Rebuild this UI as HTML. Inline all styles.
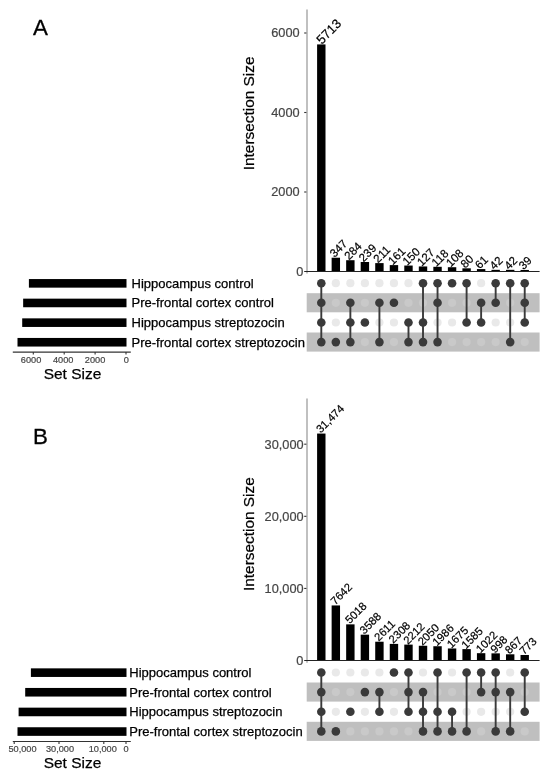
<!DOCTYPE html>
<html lang="en">
<head>
<meta charset="utf-8">
<title>UpSet plots</title>
<style>
html,body{margin:0;padding:0;background:#fff;}
body{width:550px;height:777px;overflow:hidden;}
svg{display:block;}
svg text{font-family:"Liberation Sans", Arial, Helvetica, sans-serif;}
.tk{font-size:12.75px;fill:#454545;stroke:#454545;stroke-width:0.2px;}
.st{font-size:9.2px;fill:#454545;stroke:#454545;stroke-width:0.2px;}
.ttl{font-size:15.5px;fill:#000;stroke:#000;stroke-width:0.25px;}
.lab{font-size:13px;fill:#000;stroke:#000;stroke-width:0.25px;}
.num{font-size:11.2px;fill:#000;stroke:#000;stroke-width:0.2px;}
.pan{font-size:22.3px;fill:#000;stroke:#000;stroke-width:0.3px;}
</style>
</head>
<body>
<svg width="550" height="777" viewBox="0 0 550 777">
<rect width="550" height="777" fill="#fff"/>
<g>
<text class="pan" x="33" y="34.5">A</text>
<rect x="306.7" y="293.2" width="232.9" height="19.1" fill="#bfbfbf"/>
<rect x="306.7" y="332.5" width="232.9" height="19.1" fill="#bfbfbf"/>
<line x1="307" y1="9.5" x2="307" y2="273.6" stroke="#ababab" stroke-width="1.5"/>
<rect x="317.1" y="44.41" width="8.4" height="227.09" fill="#000"/>
<rect x="331.63" y="257.71" width="8.4" height="13.79" fill="#000"/>
<rect x="346.16" y="260.21" width="8.4" height="11.29" fill="#000"/>
<rect x="360.69" y="262" width="8.4" height="9.5" fill="#000"/>
<rect x="375.22" y="263.11" width="8.4" height="8.39" fill="#000"/>
<rect x="389.75" y="265.1" width="8.4" height="6.4" fill="#000"/>
<rect x="404.28" y="265.54" width="8.4" height="5.96" fill="#000"/>
<rect x="418.81" y="266.45" width="8.4" height="5.05" fill="#000"/>
<rect x="433.34" y="266.81" width="8.4" height="4.69" fill="#000"/>
<rect x="447.87" y="267.21" width="8.4" height="4.29" fill="#000"/>
<rect x="462.4" y="268.32" width="8.4" height="3.18" fill="#000"/>
<rect x="476.93" y="269.08" width="8.4" height="2.42" fill="#000"/>
<rect x="491.46" y="269.83" width="8.4" height="1.67" fill="#000"/>
<rect x="505.99" y="269.83" width="8.4" height="1.67" fill="#000"/>
<rect x="520.52" y="269.95" width="8.4" height="1.55" fill="#000"/>
<line x1="304.2" y1="271.5" x2="539.6" y2="271.5" stroke="#222" stroke-width="1.1"/>
<line x1="304.2" y1="33" x2="306.4" y2="33" stroke="#333" stroke-width="1.1"/>
<text class="tk" x="299.6" y="37.4" text-anchor="end">6000</text>
<line x1="304.2" y1="112.5" x2="306.4" y2="112.5" stroke="#333" stroke-width="1.1"/>
<text class="tk" x="299.6" y="116.9" text-anchor="end">4000</text>
<line x1="304.2" y1="192" x2="306.4" y2="192" stroke="#333" stroke-width="1.1"/>
<text class="tk" x="299.6" y="196.4" text-anchor="end">2000</text>
<text class="tk" x="303.4" y="275.9" text-anchor="end">0</text>
<text class="ttl" transform="translate(253.7 113.4) rotate(-90)" text-anchor="middle" style="font-size:15.4px">Intersection Size</text>
<text class="num" style="font-size:13px" transform="translate(321.7 44.91) rotate(-45)">5713</text>
<text class="num" style="font-size:11.5px" transform="translate(334.53 258.11) rotate(-45)">347</text>
<text class="num" style="font-size:11.5px" transform="translate(349.06 260.61) rotate(-45)">284</text>
<text class="num" style="font-size:11.5px" transform="translate(363.59 262.4) rotate(-45)">239</text>
<text class="num" style="font-size:11.5px" transform="translate(378.12 263.51) rotate(-45)">211</text>
<text class="num" style="font-size:11.5px" transform="translate(392.65 265.5) rotate(-45)">161</text>
<text class="num" style="font-size:11.5px" transform="translate(407.18 265.94) rotate(-45)">150</text>
<text class="num" style="font-size:11.5px" transform="translate(421.71 266.85) rotate(-45)">127</text>
<text class="num" style="font-size:11.5px" transform="translate(436.24 267.21) rotate(-45)">118</text>
<text class="num" style="font-size:11.5px" transform="translate(450.77 267.61) rotate(-45)">108</text>
<text class="num" style="font-size:11.5px" transform="translate(465.3 268.72) rotate(-45)">80</text>
<text class="num" style="font-size:11.5px" transform="translate(479.83 269.48) rotate(-45)">61</text>
<text class="num" style="font-size:11.5px" transform="translate(494.36 270.23) rotate(-45)">42</text>
<text class="num" style="font-size:11.5px" transform="translate(508.89 270.23) rotate(-45)">42</text>
<text class="num" style="font-size:11.5px" transform="translate(523.42 270.35) rotate(-45)">39</text>
<circle cx="335.83" cy="283.2" r="4.1" fill="#e9e9e9"/>
<circle cx="335.83" cy="302.8" r="4.1" fill="#c9c9c9"/>
<circle cx="335.83" cy="322.5" r="4.1" fill="#e9e9e9"/>
<circle cx="350.36" cy="283.2" r="4.1" fill="#e9e9e9"/>
<circle cx="364.89" cy="283.2" r="4.1" fill="#e9e9e9"/>
<circle cx="364.89" cy="302.8" r="4.1" fill="#c9c9c9"/>
<circle cx="364.89" cy="342.1" r="4.1" fill="#c9c9c9"/>
<circle cx="379.42" cy="283.2" r="4.1" fill="#e9e9e9"/>
<circle cx="379.42" cy="322.5" r="4.1" fill="#e9e9e9"/>
<circle cx="393.95" cy="283.2" r="4.1" fill="#e9e9e9"/>
<circle cx="393.95" cy="322.5" r="4.1" fill="#e9e9e9"/>
<circle cx="393.95" cy="342.1" r="4.1" fill="#c9c9c9"/>
<circle cx="408.48" cy="283.2" r="4.1" fill="#e9e9e9"/>
<circle cx="408.48" cy="302.8" r="4.1" fill="#c9c9c9"/>
<circle cx="423.01" cy="302.8" r="4.1" fill="#c9c9c9"/>
<circle cx="437.54" cy="322.5" r="4.1" fill="#e9e9e9"/>
<circle cx="452.07" cy="302.8" r="4.1" fill="#c9c9c9"/>
<circle cx="452.07" cy="322.5" r="4.1" fill="#e9e9e9"/>
<circle cx="452.07" cy="342.1" r="4.1" fill="#c9c9c9"/>
<circle cx="466.6" cy="302.8" r="4.1" fill="#c9c9c9"/>
<circle cx="466.6" cy="342.1" r="4.1" fill="#c9c9c9"/>
<circle cx="481.13" cy="283.2" r="4.1" fill="#e9e9e9"/>
<circle cx="481.13" cy="342.1" r="4.1" fill="#c9c9c9"/>
<circle cx="495.66" cy="322.5" r="4.1" fill="#e9e9e9"/>
<circle cx="495.66" cy="342.1" r="4.1" fill="#c9c9c9"/>
<circle cx="510.19" cy="302.8" r="4.1" fill="#c9c9c9"/>
<circle cx="510.19" cy="322.5" r="4.1" fill="#e9e9e9"/>
<circle cx="524.72" cy="342.1" r="4.1" fill="#c9c9c9"/>
<line x1="321.3" y1="283.2" x2="321.3" y2="342.1" stroke="#3a3a3a" stroke-width="1.9"/>
<circle cx="321.3" cy="283.2" r="4.3" fill="#3a3a3a"/>
<circle cx="321.3" cy="302.8" r="4.3" fill="#3a3a3a"/>
<circle cx="321.3" cy="322.5" r="4.3" fill="#3a3a3a"/>
<circle cx="321.3" cy="342.1" r="4.3" fill="#3a3a3a"/>
<circle cx="335.83" cy="342.1" r="4.3" fill="#3a3a3a"/>
<line x1="350.36" y1="302.8" x2="350.36" y2="342.1" stroke="#3a3a3a" stroke-width="1.9"/>
<circle cx="350.36" cy="302.8" r="4.3" fill="#3a3a3a"/>
<circle cx="350.36" cy="322.5" r="4.3" fill="#3a3a3a"/>
<circle cx="350.36" cy="342.1" r="4.3" fill="#3a3a3a"/>
<circle cx="364.89" cy="322.5" r="4.3" fill="#3a3a3a"/>
<line x1="379.42" y1="302.8" x2="379.42" y2="342.1" stroke="#3a3a3a" stroke-width="1.9"/>
<circle cx="379.42" cy="302.8" r="4.3" fill="#3a3a3a"/>
<circle cx="379.42" cy="342.1" r="4.3" fill="#3a3a3a"/>
<circle cx="393.95" cy="302.8" r="4.3" fill="#3a3a3a"/>
<line x1="408.48" y1="322.5" x2="408.48" y2="342.1" stroke="#3a3a3a" stroke-width="1.9"/>
<circle cx="408.48" cy="322.5" r="4.3" fill="#3a3a3a"/>
<circle cx="408.48" cy="342.1" r="4.3" fill="#3a3a3a"/>
<line x1="423.01" y1="283.2" x2="423.01" y2="342.1" stroke="#3a3a3a" stroke-width="1.9"/>
<circle cx="423.01" cy="283.2" r="4.3" fill="#3a3a3a"/>
<circle cx="423.01" cy="322.5" r="4.3" fill="#3a3a3a"/>
<circle cx="423.01" cy="342.1" r="4.3" fill="#3a3a3a"/>
<line x1="437.54" y1="283.2" x2="437.54" y2="342.1" stroke="#3a3a3a" stroke-width="1.9"/>
<circle cx="437.54" cy="283.2" r="4.3" fill="#3a3a3a"/>
<circle cx="437.54" cy="302.8" r="4.3" fill="#3a3a3a"/>
<circle cx="437.54" cy="342.1" r="4.3" fill="#3a3a3a"/>
<circle cx="452.07" cy="283.2" r="4.3" fill="#3a3a3a"/>
<line x1="466.6" y1="283.2" x2="466.6" y2="322.5" stroke="#3a3a3a" stroke-width="1.9"/>
<circle cx="466.6" cy="283.2" r="4.3" fill="#3a3a3a"/>
<circle cx="466.6" cy="322.5" r="4.3" fill="#3a3a3a"/>
<line x1="481.13" y1="302.8" x2="481.13" y2="322.5" stroke="#3a3a3a" stroke-width="1.9"/>
<circle cx="481.13" cy="302.8" r="4.3" fill="#3a3a3a"/>
<circle cx="481.13" cy="322.5" r="4.3" fill="#3a3a3a"/>
<line x1="495.66" y1="283.2" x2="495.66" y2="302.8" stroke="#3a3a3a" stroke-width="1.9"/>
<circle cx="495.66" cy="283.2" r="4.3" fill="#3a3a3a"/>
<circle cx="495.66" cy="302.8" r="4.3" fill="#3a3a3a"/>
<line x1="510.19" y1="283.2" x2="510.19" y2="342.1" stroke="#3a3a3a" stroke-width="1.9"/>
<circle cx="510.19" cy="283.2" r="4.3" fill="#3a3a3a"/>
<circle cx="510.19" cy="342.1" r="4.3" fill="#3a3a3a"/>
<line x1="524.72" y1="283.2" x2="524.72" y2="322.5" stroke="#3a3a3a" stroke-width="1.9"/>
<circle cx="524.72" cy="283.2" r="4.3" fill="#3a3a3a"/>
<circle cx="524.72" cy="302.8" r="4.3" fill="#3a3a3a"/>
<circle cx="524.72" cy="322.5" r="4.3" fill="#3a3a3a"/>
<text class="lab" x="131.5" y="287.7">Hippocampus control</text>
<text class="lab" x="131.5" y="307.3">Pre-frontal cortex control</text>
<text class="lab" x="131.5" y="327">Hippocampus streptozocin</text>
<text class="lab" x="131.5" y="346.6">Pre-frontal cortex streptozocin</text>
<rect x="28.9" y="279.05" width="97.6" height="8.6" fill="#000"/>
<rect x="23.15" y="298.65" width="103.35" height="8.6" fill="#000"/>
<rect x="22.2" y="318.35" width="104.3" height="8.6" fill="#000"/>
<rect x="17.5" y="337.95" width="109" height="8.6" fill="#000"/>
<line x1="12.8" y1="352.1" x2="130.8" y2="352.1" stroke="#333" stroke-width="1.1"/>
<line x1="33.3" y1="352.1" x2="33.3" y2="354.6" stroke="#333" stroke-width="1.1"/>
<text class="st" x="31.1" y="362.7" text-anchor="middle">6000</text>
<line x1="64.2" y1="352.1" x2="64.2" y2="354.6" stroke="#333" stroke-width="1.1"/>
<text class="st" x="63.2" y="362.7" text-anchor="middle">4000</text>
<line x1="95.1" y1="352.1" x2="95.1" y2="354.6" stroke="#333" stroke-width="1.1"/>
<text class="st" x="95.1" y="362.7" text-anchor="middle">2000</text>
<line x1="126" y1="352.1" x2="126" y2="354.6" stroke="#333" stroke-width="1.1"/>
<text class="st" x="126.4" y="362.7" text-anchor="middle">0</text>
<text class="ttl" x="72.5" y="378.7" text-anchor="middle">Set Size</text>
</g>
<g>
<text class="pan" x="33" y="444.1">B</text>
<rect x="306.7" y="682.5" width="232.9" height="19.1" fill="#bfbfbf"/>
<rect x="306.7" y="721.8" width="232.9" height="19.1" fill="#bfbfbf"/>
<line x1="307" y1="398.5" x2="307" y2="662.65" stroke="#ababab" stroke-width="1.5"/>
<rect x="317.1" y="433.56" width="8.4" height="226.99" fill="#000"/>
<rect x="331.63" y="605.44" width="8.4" height="55.11" fill="#000"/>
<rect x="346.16" y="624.36" width="8.4" height="36.19" fill="#000"/>
<rect x="360.69" y="634.67" width="8.4" height="25.88" fill="#000"/>
<rect x="375.22" y="641.72" width="8.4" height="18.83" fill="#000"/>
<rect x="389.75" y="643.9" width="8.4" height="16.65" fill="#000"/>
<rect x="404.28" y="644.6" width="8.4" height="15.95" fill="#000"/>
<rect x="418.81" y="645.77" width="8.4" height="14.78" fill="#000"/>
<rect x="433.34" y="646.23" width="8.4" height="14.32" fill="#000"/>
<rect x="447.87" y="648.47" width="8.4" height="12.08" fill="#000"/>
<rect x="462.4" y="649.12" width="8.4" height="11.43" fill="#000"/>
<rect x="476.93" y="653.18" width="8.4" height="7.37" fill="#000"/>
<rect x="491.46" y="653.35" width="8.4" height="7.2" fill="#000"/>
<rect x="505.99" y="654.3" width="8.4" height="6.25" fill="#000"/>
<rect x="520.52" y="654.98" width="8.4" height="5.57" fill="#000"/>
<line x1="304.2" y1="660.55" x2="539.6" y2="660.55" stroke="#222" stroke-width="1.1"/>
<line x1="304.2" y1="444.19" x2="306.4" y2="444.19" stroke="#333" stroke-width="1.1"/>
<text class="tk" x="303.6" y="448.59" text-anchor="end">30,000</text>
<line x1="304.2" y1="516.31" x2="306.4" y2="516.31" stroke="#333" stroke-width="1.1"/>
<text class="tk" x="303.6" y="520.71" text-anchor="end">20,000</text>
<line x1="304.2" y1="588.43" x2="306.4" y2="588.43" stroke="#333" stroke-width="1.1"/>
<text class="tk" x="303.6" y="592.83" text-anchor="end">10,000</text>
<text class="tk" x="303.4" y="664.95" text-anchor="end">0</text>
<text class="ttl" transform="translate(253.7 534.1) rotate(-90)" text-anchor="middle" style="font-size:15.4px">Intersection Size</text>
<text class="num" transform="translate(320.7 433.56) rotate(-45)">31,474</text>
<text class="num" transform="translate(335.23 605.44) rotate(-45)">7642</text>
<text class="num" transform="translate(349.76 624.36) rotate(-45)">5018</text>
<text class="num" transform="translate(364.29 634.67) rotate(-45)">3588</text>
<text class="num" transform="translate(378.82 641.72) rotate(-45)">2611</text>
<text class="num" transform="translate(393.35 643.9) rotate(-45)">2308</text>
<text class="num" transform="translate(407.88 644.9) rotate(-45)">2212</text>
<text class="num" transform="translate(422.41 646.07) rotate(-45)">2050</text>
<text class="num" transform="translate(436.94 646.53) rotate(-45)">1986</text>
<text class="num" transform="translate(451.47 648.77) rotate(-45)">1675</text>
<text class="num" transform="translate(466 649.42) rotate(-45)">1585</text>
<text class="num" transform="translate(480.53 653.48) rotate(-45)">1022</text>
<text class="num" transform="translate(495.06 653.65) rotate(-45)">998</text>
<text class="num" transform="translate(509.59 654.6) rotate(-45)">867</text>
<text class="num" transform="translate(524.12 655.28) rotate(-45)">773</text>
<circle cx="335.83" cy="672.5" r="4.1" fill="#e9e9e9"/>
<circle cx="335.83" cy="692.1" r="4.1" fill="#c9c9c9"/>
<circle cx="335.83" cy="711.8" r="4.1" fill="#e9e9e9"/>
<circle cx="350.36" cy="672.5" r="4.1" fill="#e9e9e9"/>
<circle cx="350.36" cy="692.1" r="4.1" fill="#c9c9c9"/>
<circle cx="350.36" cy="731.4" r="4.1" fill="#c9c9c9"/>
<circle cx="364.89" cy="672.5" r="4.1" fill="#e9e9e9"/>
<circle cx="364.89" cy="711.8" r="4.1" fill="#e9e9e9"/>
<circle cx="364.89" cy="731.4" r="4.1" fill="#c9c9c9"/>
<circle cx="379.42" cy="672.5" r="4.1" fill="#e9e9e9"/>
<circle cx="379.42" cy="731.4" r="4.1" fill="#c9c9c9"/>
<circle cx="393.95" cy="692.1" r="4.1" fill="#c9c9c9"/>
<circle cx="393.95" cy="711.8" r="4.1" fill="#e9e9e9"/>
<circle cx="393.95" cy="731.4" r="4.1" fill="#c9c9c9"/>
<circle cx="408.48" cy="731.4" r="4.1" fill="#c9c9c9"/>
<circle cx="423.01" cy="672.5" r="4.1" fill="#e9e9e9"/>
<circle cx="437.54" cy="692.1" r="4.1" fill="#c9c9c9"/>
<circle cx="452.07" cy="672.5" r="4.1" fill="#e9e9e9"/>
<circle cx="452.07" cy="692.1" r="4.1" fill="#c9c9c9"/>
<circle cx="466.6" cy="692.1" r="4.1" fill="#c9c9c9"/>
<circle cx="466.6" cy="711.8" r="4.1" fill="#e9e9e9"/>
<circle cx="481.13" cy="711.8" r="4.1" fill="#e9e9e9"/>
<circle cx="481.13" cy="731.4" r="4.1" fill="#c9c9c9"/>
<circle cx="495.66" cy="711.8" r="4.1" fill="#e9e9e9"/>
<circle cx="510.19" cy="672.5" r="4.1" fill="#e9e9e9"/>
<circle cx="510.19" cy="711.8" r="4.1" fill="#e9e9e9"/>
<circle cx="524.72" cy="692.1" r="4.1" fill="#c9c9c9"/>
<circle cx="524.72" cy="731.4" r="4.1" fill="#c9c9c9"/>
<line x1="321.3" y1="672.5" x2="321.3" y2="731.4" stroke="#3a3a3a" stroke-width="1.9"/>
<circle cx="321.3" cy="672.5" r="4.3" fill="#3a3a3a"/>
<circle cx="321.3" cy="692.1" r="4.3" fill="#3a3a3a"/>
<circle cx="321.3" cy="711.8" r="4.3" fill="#3a3a3a"/>
<circle cx="321.3" cy="731.4" r="4.3" fill="#3a3a3a"/>
<circle cx="335.83" cy="731.4" r="4.3" fill="#3a3a3a"/>
<circle cx="350.36" cy="711.8" r="4.3" fill="#3a3a3a"/>
<circle cx="364.89" cy="692.1" r="4.3" fill="#3a3a3a"/>
<line x1="379.42" y1="692.1" x2="379.42" y2="711.8" stroke="#3a3a3a" stroke-width="1.9"/>
<circle cx="379.42" cy="692.1" r="4.3" fill="#3a3a3a"/>
<circle cx="379.42" cy="711.8" r="4.3" fill="#3a3a3a"/>
<circle cx="393.95" cy="672.5" r="4.3" fill="#3a3a3a"/>
<line x1="408.48" y1="672.5" x2="408.48" y2="711.8" stroke="#3a3a3a" stroke-width="1.9"/>
<circle cx="408.48" cy="672.5" r="4.3" fill="#3a3a3a"/>
<circle cx="408.48" cy="692.1" r="4.3" fill="#3a3a3a"/>
<circle cx="408.48" cy="711.8" r="4.3" fill="#3a3a3a"/>
<line x1="423.01" y1="692.1" x2="423.01" y2="731.4" stroke="#3a3a3a" stroke-width="1.9"/>
<circle cx="423.01" cy="692.1" r="4.3" fill="#3a3a3a"/>
<circle cx="423.01" cy="711.8" r="4.3" fill="#3a3a3a"/>
<circle cx="423.01" cy="731.4" r="4.3" fill="#3a3a3a"/>
<line x1="437.54" y1="672.5" x2="437.54" y2="731.4" stroke="#3a3a3a" stroke-width="1.9"/>
<circle cx="437.54" cy="672.5" r="4.3" fill="#3a3a3a"/>
<circle cx="437.54" cy="711.8" r="4.3" fill="#3a3a3a"/>
<circle cx="437.54" cy="731.4" r="4.3" fill="#3a3a3a"/>
<line x1="452.07" y1="711.8" x2="452.07" y2="731.4" stroke="#3a3a3a" stroke-width="1.9"/>
<circle cx="452.07" cy="711.8" r="4.3" fill="#3a3a3a"/>
<circle cx="452.07" cy="731.4" r="4.3" fill="#3a3a3a"/>
<line x1="466.6" y1="672.5" x2="466.6" y2="731.4" stroke="#3a3a3a" stroke-width="1.9"/>
<circle cx="466.6" cy="672.5" r="4.3" fill="#3a3a3a"/>
<circle cx="466.6" cy="731.4" r="4.3" fill="#3a3a3a"/>
<line x1="481.13" y1="672.5" x2="481.13" y2="692.1" stroke="#3a3a3a" stroke-width="1.9"/>
<circle cx="481.13" cy="672.5" r="4.3" fill="#3a3a3a"/>
<circle cx="481.13" cy="692.1" r="4.3" fill="#3a3a3a"/>
<line x1="495.66" y1="672.5" x2="495.66" y2="731.4" stroke="#3a3a3a" stroke-width="1.9"/>
<circle cx="495.66" cy="672.5" r="4.3" fill="#3a3a3a"/>
<circle cx="495.66" cy="692.1" r="4.3" fill="#3a3a3a"/>
<circle cx="495.66" cy="731.4" r="4.3" fill="#3a3a3a"/>
<line x1="510.19" y1="692.1" x2="510.19" y2="731.4" stroke="#3a3a3a" stroke-width="1.9"/>
<circle cx="510.19" cy="692.1" r="4.3" fill="#3a3a3a"/>
<circle cx="510.19" cy="731.4" r="4.3" fill="#3a3a3a"/>
<line x1="524.72" y1="672.5" x2="524.72" y2="711.8" stroke="#3a3a3a" stroke-width="1.9"/>
<circle cx="524.72" cy="672.5" r="4.3" fill="#3a3a3a"/>
<circle cx="524.72" cy="711.8" r="4.3" fill="#3a3a3a"/>
<text class="lab" x="129.3" y="677">Hippocampus control</text>
<text class="lab" x="129.3" y="696.6">Pre-frontal cortex control</text>
<text class="lab" x="129.3" y="716.3">Hippocampus streptozocin</text>
<text class="lab" x="129.3" y="735.9">Pre-frontal cortex streptozocin</text>
<rect x="30.9" y="668.35" width="95.6" height="8.6" fill="#000"/>
<rect x="25.2" y="687.95" width="101.3" height="8.6" fill="#000"/>
<rect x="18.6" y="707.65" width="107.9" height="8.6" fill="#000"/>
<rect x="17.5" y="727.25" width="109" height="8.6" fill="#000"/>
<line x1="12.8" y1="741.5" x2="130.8" y2="741.5" stroke="#333" stroke-width="1.1"/>
<line x1="14.2" y1="741.5" x2="14.2" y2="744" stroke="#333" stroke-width="1.1"/>
<text class="st" x="22.5" y="751.6" text-anchor="middle">50,000</text>
<line x1="59" y1="741.5" x2="59" y2="744" stroke="#333" stroke-width="1.1"/>
<text class="st" x="60" y="751.6" text-anchor="middle">30,000</text>
<line x1="103.8" y1="741.5" x2="103.8" y2="744" stroke="#333" stroke-width="1.1"/>
<text class="st" x="102.8" y="751.6" text-anchor="middle">10,000</text>
<line x1="126" y1="741.5" x2="126" y2="744" stroke="#333" stroke-width="1.1"/>
<text class="st" x="126" y="751.6" text-anchor="middle">0</text>
<text class="ttl" x="72.5" y="768" text-anchor="middle">Set Size</text>
</g>
</svg>
</body>
</html>
